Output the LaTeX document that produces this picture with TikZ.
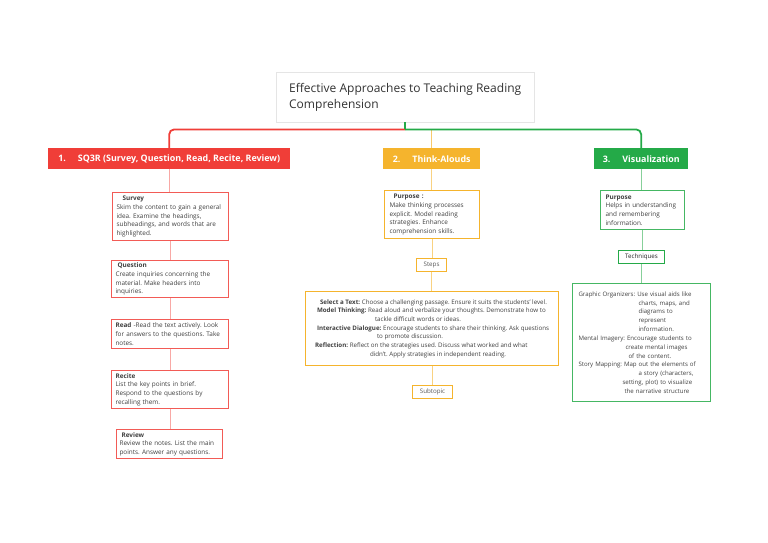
\documentclass[tikz,border=0pt]{standalone}
\usepackage{fontspec}
\setmainfont{Open Sans}
\usepackage{tikz}
\usetikzlibrary{positioning}
\frenchspacing
\definecolor{sqred}{RGB}{240,62,56}
\definecolor{thinkorange}{RGB}{245,180,45}
\definecolor{visgreen}{RGB}{36,170,72}
\tikzstyle{topic}=[draw=black!10,fill=white,anchor=north west,align=left,inner sep=0,text=black!80,font=\fontsize{12}{16}\selectfont]
\tikzstyle{branch}=[anchor=north west,text=white,inner sep=0,minimum height=21,font=\bfseries\fontsize{8.9}{10}\selectfont]
\tikzstyle{leaf}=[draw,fill=white,anchor=north west,align=left,inner sep=0,inner xsep=4,line width=1.1,text=black!75,font=\fontsize{6.4}{8.7}\selectfont]
\tikzstyle{tag}=[draw,fill=white,anchor=north west,inner sep=0,line width=1.1,text=black!65,font=\fontsize{6.2}{8}\selectfont]
\tikzstyle{link}=[line width=1.8,rounded corners=5]
\tikzstyle{stem}=[line width=1]
\def\hd#1{\textbf{#1}\\}

\begin{document}
\begin{tikzpicture}[x=1pt,y=-1pt]
  \useasboundingbox[fill=white] (0,0) rectangle (768,543);
  % central topic
  \node[topic,minimum width=258,minimum height=50] (title) at (276,72)
    {Effective Approaches to Teaching Reading\\Comprehension};
  % main branches
  \node[branch,fill=sqred,minimum width=242] (sq3r) at (48,148)
    {1.\hspace{12pt}SQ3R (Survey, Question, Read, Recite, Review)};
  \node[branch,fill=thinkorange,minimum width=97] (think) at (383,148)
    {2.\hspace{12pt}Think-Alouds};
  \node[branch,fill=visgreen,minimum width=94] (vis) at (594,148)
    {3.\hspace{12pt}Visualization};
  % SQ3R column
  \node[leaf,draw=sqred!85,text width=108,minimum height=48] (survey) at (112,192)
    {\hspace*{6pt}\hd{Survey}Skim the content to gain a general\\idea. Examine the headings,\\subheadings, and words that are\\highlighted.};
  \node[leaf,draw=sqred!85,text width=109,minimum height=37] (question) at (111,260)
    {\hspace*{2pt}\hd{Question}Create inquiries concerning the\\material. Make headers into\\inquiries.};
  \node[leaf,draw=sqred!85,text width=109,minimum height=29] (read) at (111,319)
    {\textbf{Read} -Read the text actively. Look\\for answers to the questions. Take\\notes.};
  \node[leaf,draw=sqred!85,text width=109,minimum height=38] (recite) at (111,370)
    {\hd{Recite}List the key points in brief.\\Respond to the questions by\\recalling them.};
  \node[leaf,draw=sqred!85,inner xsep=3,text width=100,minimum height=29] (review) at (116,429)
    {\hspace*{2pt}\hd{Review}Review the notes. List the main\\points. Answer any questions.};
  % Think-Alouds column
  \node[leaf,draw=thinkorange,inner xsep=5,text width=85,minimum height=48] (purpose1) at (384,190)
    {\hspace*{4pt}\hd{Purpose :}Make thinking processes\\explicit. Model reading\\strategies. Enhance\\comprehension skills.};
  \node[tag,draw=thinkorange,minimum width=30,minimum height=13] (steps) at (416,258) {Steps};
  \node[leaf,draw=thinkorange,minimum width=253,minimum height=74,font=\fontsize{6.2}{8.7}\selectfont] (steplist) at (305,291)
    {\hspace*{5pt}\textbf{Select a Text:} Choose a challenging passage. Ensure it suits the students' level.\\
     \hspace*{2pt}\textbf{Model Thinking:} Read aloud and verbalize your thoughts. Demonstrate how to\\
     \hspace*{60pt}tackle difficult words or ideas.\\
     \hspace*{2pt}\textbf{Interactive Dialogue:} Encourage students to share their thinking. Ask questions\\
     \hspace*{62pt}to promote discussion.\\
     \textbf{Reflection:} Reflect on the strategies used. Discuss what worked and what\\
     \hspace*{55pt}didn't. Apply strategies in independent reading.};
  \node[tag,draw=thinkorange,minimum width=40,minimum height=13] (subtopic) at (412,385) {Subtopic};
  % Visualization column
  \node[leaf,draw=visgreen!85,inner xsep=5,text width=74,minimum height=39] (purpose2) at (600,190)
    {\hd{Purpose}Helps in understanding\\and remembering\\information.};
  \node[tag,draw=visgreen,text=black!85,minimum width=46,minimum height=13] (techniques) at (618,250) {Techniques};
  \node[leaf,draw=visgreen!85,inner xsep=6,text width=126,minimum height=118,font=\fontsize{6.1}{8.85}\selectfont] (techlist) at (572,283)
    {Graphic Organizers: Use visual aids like\\
     \hspace*{60pt}charts, maps, and\\
     \hspace*{60pt}diagrams to\\
     \hspace*{60pt}represent\\
     \hspace*{60pt}information.\\
     Mental Imagery: Encourage students to\\
     \hspace*{47pt}create mental images\\
     \hspace*{50pt}of the content.\\
     Story Mapping: Map out the elements of\\
     \hspace*{60pt}a story (characters,\\
     \hspace*{44pt}setting, plot) to visualize\\
     \hspace*{46pt}the narrative structure};
  % connectors
  \path (title.south) ++(0,7) coordinate (fork);
  \draw[link,thinkorange!70,line width=1.2] (think.north |- fork) -- (think.north);
  \draw[link,sqred] (fork) -| (sq3r.north);
  \draw[link,visgreen] (fork) -| (vis.north);
  \draw[link,visgreen] (title.south) -- (fork);
  \foreach \a/\b in {sq3r/survey,survey/question,question/read,read/recite,recite/review}
    \draw[stem,sqred!45] (\a.south) -- (\a.south |- \b.north);
  \foreach \a/\b in {think/purpose1,purpose1/steps,steps/steplist,steplist/subtopic}
    \draw[stem,thinkorange!60] (\a.south) -- (\a.south |- \b.north);
  \foreach \a/\b in {vis/purpose2,purpose2/techniques,techniques/techlist}
    \draw[stem,visgreen!55] (\a.south) -- (\a.south |- \b.north);
\end{tikzpicture}
\end{document}
